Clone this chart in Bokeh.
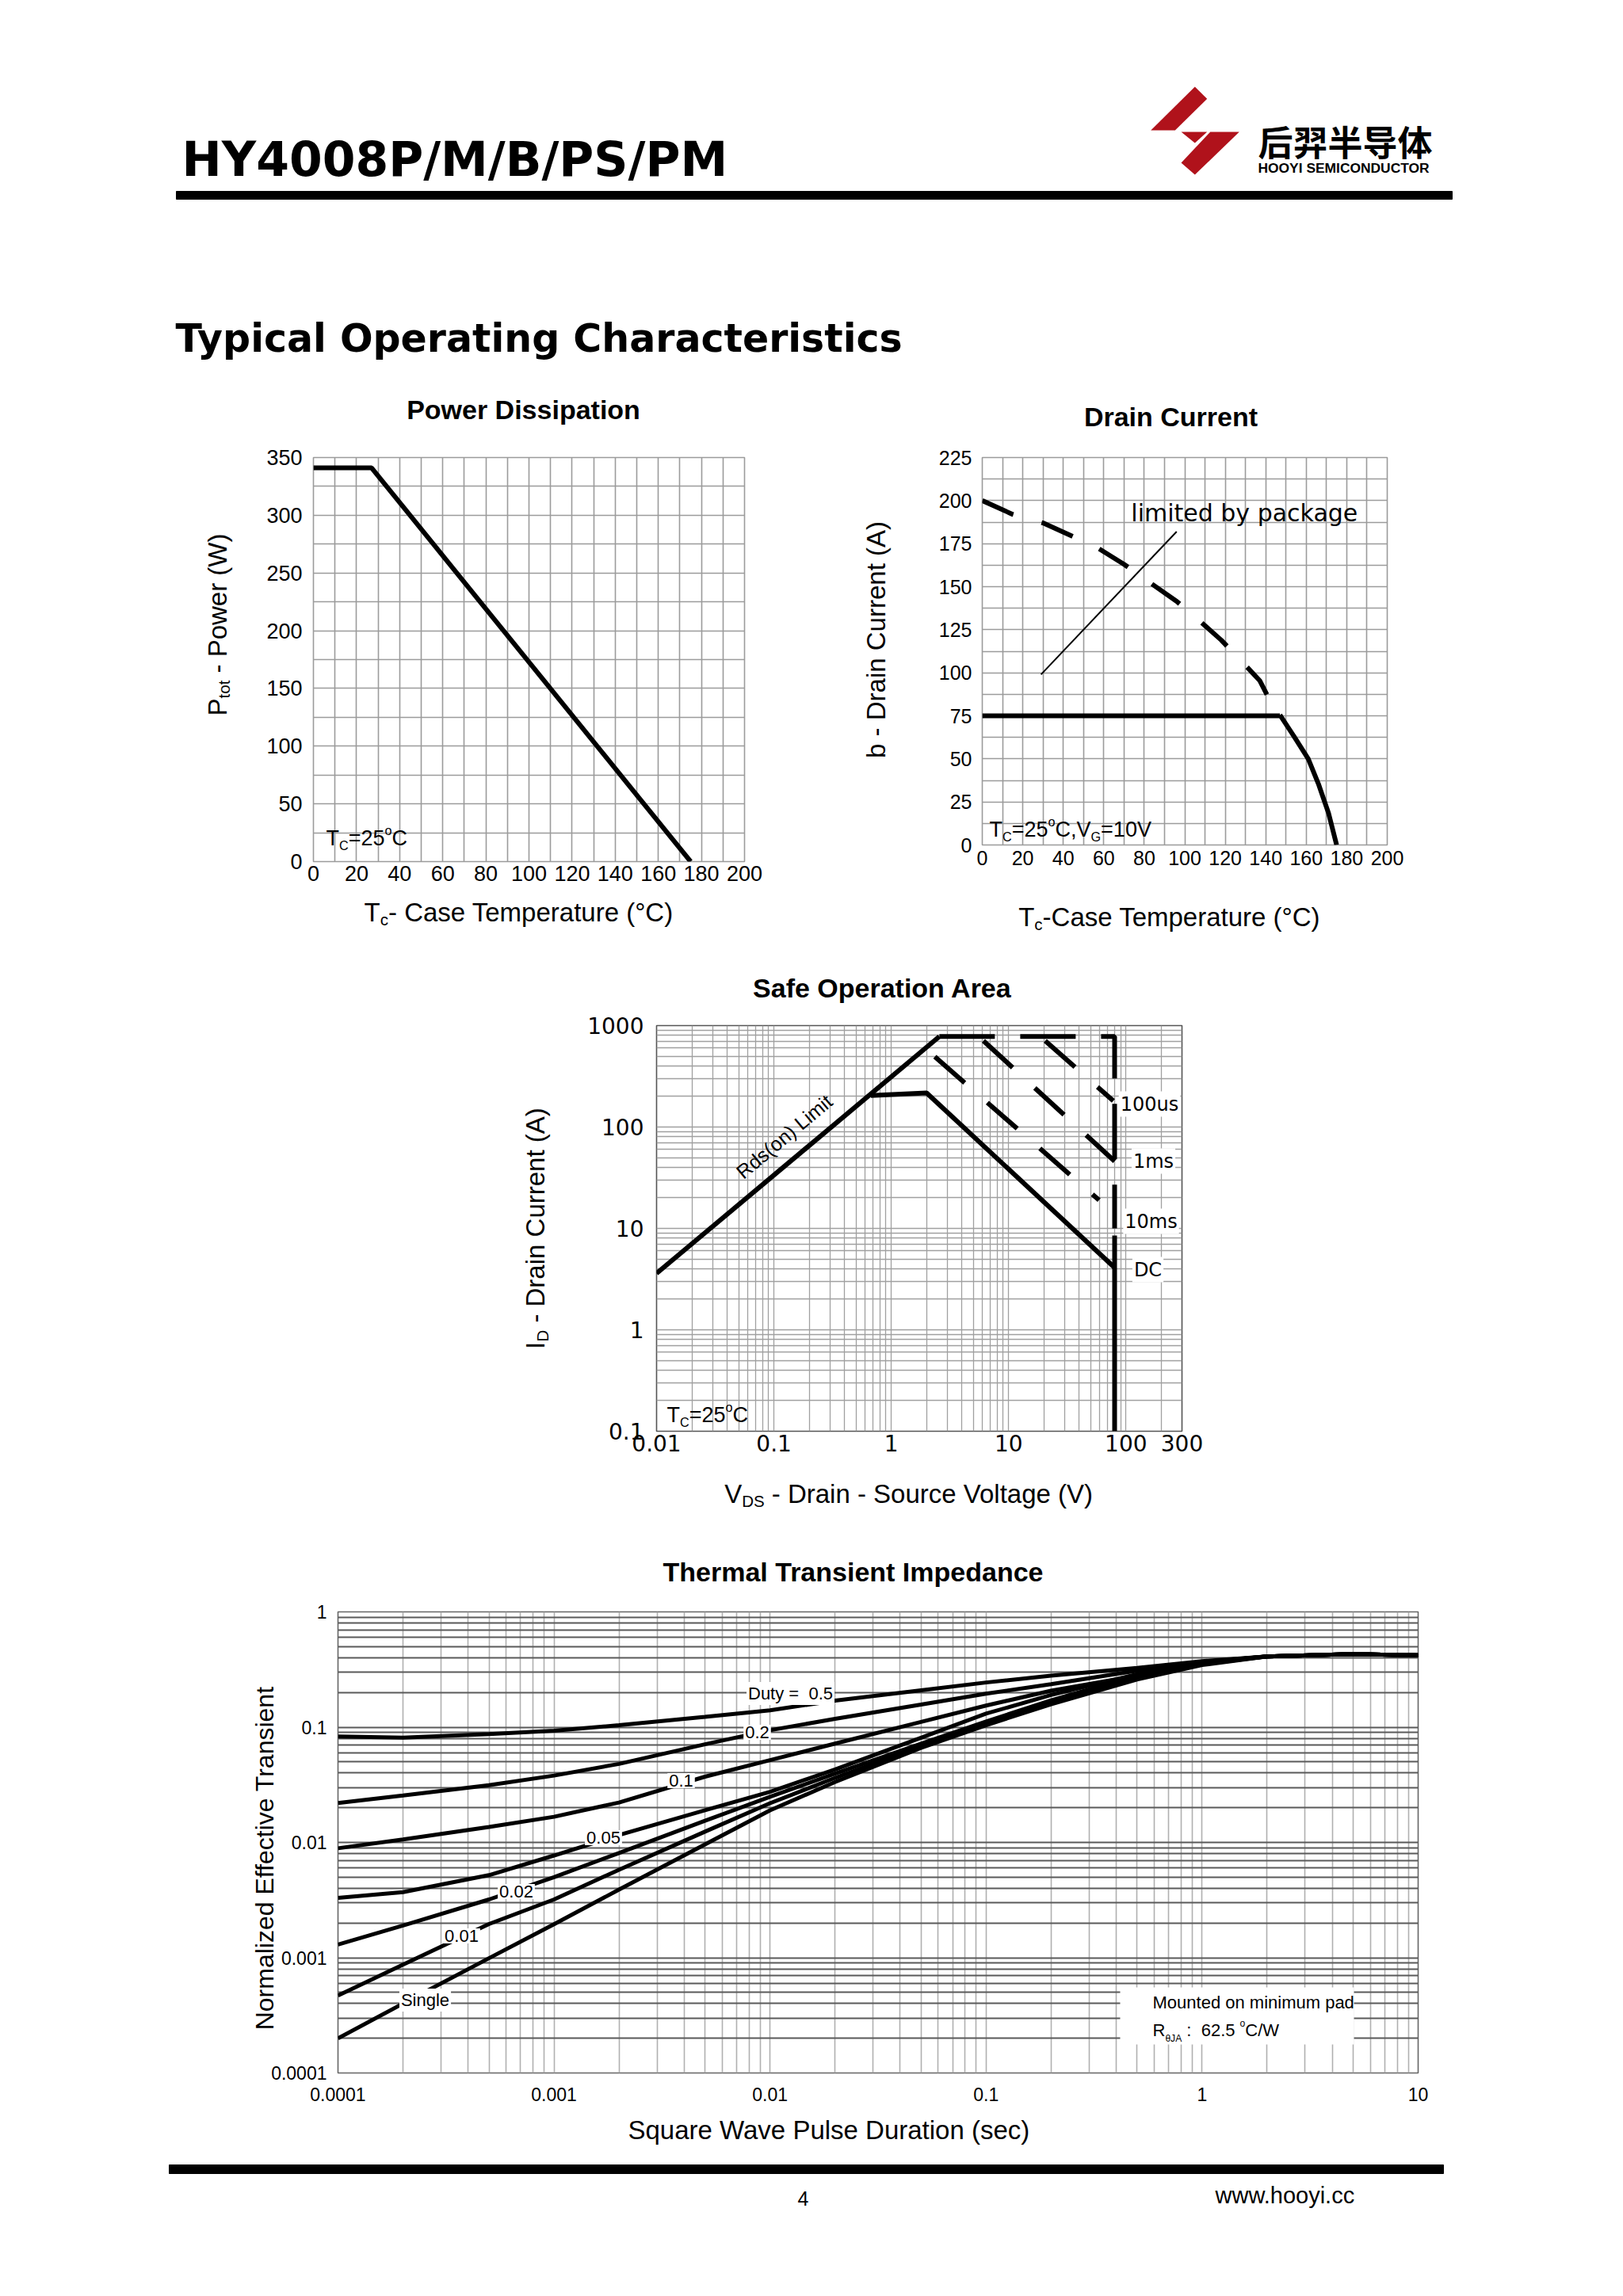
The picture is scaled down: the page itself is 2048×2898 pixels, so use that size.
import math
import re
from math import log10, pi
from bokeh.plotting import figure
from bokeh.models import (Range1d, FixedTicker, Label, BoxAnnotation, CustomJSTickFormatter,
                          GridBox, Spacer)
from bokeh.layouts import column, row
from bokeh.embed import file_html
from bokeh.resources import INLINE

# ---------------- data ----------------
# Power dissipation
pd_temp = [0, 27, 175]
pd_power = [341, 341, 0]
pd_xticks = [0, 20, 40, 60, 80, 100, 120, 140, 160, 180, 200]
pd_yticks = [0, 50, 100, 150, 200, 250, 300, 350]

# Drain current
dc_lim_temp = [0, 15, 30, 45, 57, 70, 82, 96, 106, 118, 127, 137, 142, 147]
dc_lim_curr = [200, 192, 187, 179, 172.5, 163, 153, 141.5, 131.5, 119, 108, 95.5, 84, 75.5]
pkg_temp = [0, 147]
pkg_curr = [75, 75]
derate_temp = [147, 154, 161, 166, 171, 175]
derate_curr = [75.5, 63, 50, 35.5, 18.5, 0]
pointer_temp = [29, 96]
pointer_curr = [99, 182]
dc_xticks = [0, 20, 40, 60, 80, 100, 120, 140, 160, 180, 200]
dc_yticks = [0, 25, 50, 75, 100, 125, 150, 175, 200, 225]

# Safe operation area
rds_vds = [0.01, 2.57]
rds_id = [3.6, 780]
env_vds = [2.57, 80, 80]
env_id = [780, 780, 10]
soa_dc_vds = [0.67, 2.0, 80]
soa_dc_id = [204, 217, 4.1]
bv_vds = [80, 80]
bv_id = [8.5, 0.1]
us100_vds = [20.5, 78]
us100_id = [708, 181]
ms1_vds = [6.1, 80]
ms1_id = [708, 46]
ms10_vds = [2.35, 59]
ms10_id = [493, 19]
soa_xticks = [0.01, 0.1, 1, 10, 100, 300]
soa_yticks = [0.1, 1, 10, 100, 1000]

# Thermal transient impedance
pulse_s = [1e-4, 2e-4, 5e-4, 1e-3, 2e-3, 5e-3, 1e-2, 2e-2, 5e-2, 0.1, 0.2, 0.5, 1, 2, 5, 10]
zth_d05 = [0.083, 0.081, 0.087, 0.093, 0.104, 0.123, 0.14, 0.17, 0.209, 0.244, 0.28, 0.326, 0.374, 0.41, 0.43, 0.42]
zth_d02 = [0.022, 0.0255, 0.0314, 0.038, 0.048, 0.071, 0.094, 0.118, 0.157, 0.195, 0.236, 0.309, 0.369, 0.41, 0.43, 0.42]
zth_d01 = [0.0089, 0.0106, 0.0136, 0.0167, 0.0222, 0.0372, 0.0517, 0.072, 0.111, 0.154, 0.207, 0.28, 0.363, 0.41, 0.43, 0.42]
zth_d005 = [0.0033, 0.0037, 0.0052, 0.0077, 0.0116, 0.019, 0.0275, 0.043, 0.081, 0.131, 0.19, 0.288, 0.366, 0.41, 0.43, 0.42]
zth_d002 = [0.0013, 0.0019, 0.0032, 0.005, 0.0081, 0.0154, 0.0249, 0.0395, 0.072, 0.112, 0.171, 0.28, 0.36, 0.41, 0.43, 0.42]
zth_d001 = [0.00047, 0.00087, 0.00196, 0.0032, 0.0058, 0.0124, 0.0219, 0.0363, 0.0687, 0.108, 0.165, 0.265, 0.352, 0.41, 0.43, 0.42]
zth_single = [0.0002, 0.0004, 0.00099, 0.00195, 0.0039, 0.0096, 0.019, 0.0334, 0.066, 0.104, 0.158, 0.259, 0.346, 0.41, 0.43, 0.42]
zth_xticks = [0.0001, 0.001, 0.01, 0.1, 1, 10]
zth_yticks = [0.0001, 0.001, 0.01, 0.1, 1]

# ---------------- helpers ----------------
AW = {' ': .278, '(': .333, ')': .333, ',': .278, '-': .333, '.': .278, '/': .278, ':': .278,
      '=': .584, '°': .4, 'θ': .556}
for d in '0123456789':
    AW[d] = .556
AW.update(dict(A=.667, B=.667, C=.722, D=.722, E=.667, F=.611, G=.778, H=.722, I=.278, J=.5, K=.667,
               L=.556, M=.833, N=.722, O=.778, P=.667, Q=.778, R=.722, S=.667, T=.611, U=.722, V=.667,
               W=.944, X=.667, Y=.667, Z=.611))
AW.update(dict(a=.556, b=.556, c=.5, d=.556, e=.556, f=.278, g=.556, h=.556, i=.222, j=.222, k=.5,
               l=.222, m=.833, n=.556, o=.556, p=.556, q=.556, r=.333, s=.5, t=.278, u=.556, v=.5,
               w=.722, x=.5, y=.5, z=.5))


def tw(s):
    return sum(AW.get(ch, .556) for ch in s)


def keep_spaces(t):
    # SVG collapses runs of spaces: keep them with no-break spaces
    return re.sub(r' {2,}', lambda m: '\u00a0' * len(m.group()), t)


def add_label(p, x, y, text, size, font="Liberation Sans", style="normal", align="left",
              baseline="middle", angle=0.0, bg=None):
    kw = dict(x=x, y=y, text=keep_spaces(text), text_font=font, text_font_size=f"{size:.1f}px",
              text_font_style=style, text_align=align, text_baseline=baseline, angle=angle,
              text_color="black")
    if bg:
        kw.update(background_fill_color=bg, background_fill_alpha=1.0, padding=2)
    p.add_layout(Label(**kw))


def ident(px, py):
    return px, py


MID = 0.35   # distance of the em-box middle above the baseline (in em)


def rich(p, conv, px, py, segs, size, vertical=False, anchor="center", font="Liberation Sans"):
    """Text made of segments (text, scale, baseline shift in em, + = down); (px, py) is the
    visual centre (anchor='center') or the left end of the centre line (anchor='left')."""
    widths = [tw(t) * size * sc for t, sc, sh in segs]
    total = sum(widths)
    pos = (py + total / 2) if vertical else (px - total / 2 if anchor == "center" else px)
    for (t, sc, sh), w in zip(segs, widths):
        lead = len(t) - len(t.lstrip(' '))
        adv = tw(' ' * lead) * size * sc
        txt = t.strip(' ')
        off = (sh + MID * (1 - sc)) * size
        if vertical:
            x0, y0 = conv(px + off, pos - adv)
            add_label(p, x0, y0, txt, size * sc, font, angle=pi / 2)
            pos -= w
        else:
            x0, y0 = conv(pos + adv, py + off)
            add_label(p, x0, y0, txt, size * sc, font)
            pos += w


def log_minor(lo, hi):
    out = []
    e = math.floor(log10(lo))
    while 10 ** e < hi:
        for k in range(2, 10):
            v = k * 10 ** e
            if lo * 1.0001 < v < hi * 0.9999:
                out.append(v)
        e += 1
    return out


def no_align(p):
    try:
        p.frame_align = False
    except Exception:
        pass


BL, BR, BT, BB = 120, 60, 30, 60   # borders of chart figures (room for tick labels)


def chart(L, T, R, B, xr, yr, xlog=False, ylog=False):
    p = figure(width=BL + (R - L) + BR, height=BT + (B - T) + BB,
               x_range=Range1d(*xr), y_range=Range1d(*yr),
               x_axis_type="log" if xlog else "linear", y_axis_type="log" if ylog else "linear",
               min_border_left=BL, min_border_right=BR, min_border_top=BT, min_border_bottom=BB,
               output_backend="svg", toolbar_location=None, title=None)
    p.border_fill_color = None
    p.border_fill_alpha = 0
    no_align(p)

    def conv(px, py):
        ax = (px - L) / (R - L)
        ay = (B - py) / (B - T)
        if xlog:
            x = 10 ** (log10(xr[0]) + ax * (log10(xr[1]) - log10(xr[0])))
        else:
            x = xr[0] + ax * (xr[1] - xr[0])
        if ylog:
            y = 10 ** (log10(yr[0]) + ay * (log10(yr[1]) - log10(yr[0])))
        else:
            y = yr[0] + ay * (yr[1] - yr[0])
        return x, y
    return p, conv, (L - BL, T - BT)


def style(p, xt, xm, yt, ym, font, size, xstand, ystand, xgc, ygc, xgw, ygw, outline, fmt=False):
    xtk = FixedTicker(ticks=xt, minor_ticks=xm)
    ytk = FixedTicker(ticks=yt, minor_ticks=ym)
    p.xaxis[0].ticker = xtk
    p.yaxis[0].ticker = ytk
    p.xgrid[0].ticker = xtk
    p.ygrid[0].ticker = ytk
    for ax in p.axis:
        ax.axis_line_color = None
        ax.major_tick_line_color = None
        ax.minor_tick_line_color = None
        ax.major_tick_out = 0
        ax.major_tick_in = 0
        ax.minor_tick_out = 0
        ax.minor_tick_in = 0
        ax.major_label_text_font = font
        ax.major_label_text_font_size = f"{size}px"
        ax.major_label_text_color = "black"
        if fmt:
            ax.formatter = CustomJSTickFormatter(code="return String(tick);")
    p.xaxis[0].major_label_standoff = xstand
    p.yaxis[0].major_label_standoff = ystand
    p.xgrid[0].grid_line_color = xgc
    p.xgrid[0].minor_grid_line_color = xgc
    p.xgrid[0].grid_line_width = xgw
    p.xgrid[0].minor_grid_line_width = xgw
    p.ygrid[0].grid_line_color = ygc
    p.ygrid[0].minor_grid_line_color = ygc
    p.ygrid[0].grid_line_width = ygw
    p.ygrid[0].minor_grid_line_width = ygw
    p.outline_line_color = outline
    p.outline_line_width = 1.6


def place(fig, pos):
    fx, fy = pos
    return column(Spacer(width=1, height=fy), row(Spacer(width=fx, height=1), fig))


BLACK = "black"

# ---------------- page canvas (all free text, header, footer) ----------------
page = figure(width=2040, height=2890, x_range=Range1d(0, 2040), y_range=Range1d(2890, 0),
              min_border=0, x_axis_location=None, y_axis_location=None,
              output_backend="svg", toolbar_location=None, title=None)
page.outline_line_color = None
for g in page.grid:
    g.visible = False
no_align(page)

add_label(page, 229, 200, "HY4008P/M/B/PS/PM", 60, "DejaVu Sans", "bold")
page.quad(left=[222], right=[1832], top=[241], bottom=[251], color=BLACK)
page.patches(xs=[[1451.7, 1507.3, 1522.7, 1482.3], [1490, 1522.7, 1507.3], [1490, 1526.7, 1563.3, 1507.3]],
             ys=[[164, 109, 124.3, 164], [166, 166, 180], [205, 166, 166, 220]],
             fill_color="#b0121b", line_color=None)
add_label(page, 1587, 177, "后羿半导体", 44, "Noto Sans CJK SC", "bold")
add_label(page, 1587, 211, "HOOYI SEMICONDUCTOR", 17.4, "Liberation Sans", "bold")
add_label(page, 221, 427, "Typical Operating Characteristics", 49, "DejaVu Sans", "bold")

# chart titles
add_label(page, 660, 516, "Power Dissipation", 34, "Liberation Sans", "bold", align="center")
add_label(page, 1477, 525, "Drain Current", 34, "Liberation Sans", "bold", align="center")
add_label(page, 1113, 1246, "Safe Operation Area", 34, "Liberation Sans", "bold", align="center")
add_label(page, 1076, 1983, "Thermal Transient Impedance", 34, "Liberation Sans", "bold", align="center")

# axis labels
rich(page, ident, 274, 788, [("P", 1, 0), ("tot", .62, .12), (" - Power (W)", 1, 0)], 33, vertical=True)
rich(page, ident, 656, 1151, [("T", 1, 0), ("c", .62, .14), ("- Case Temperature (°C)", 1, 0)], 33)
rich(page, ident, 1105, 807, [("b - Drain Current (A)", 1, 0)], 33, vertical=True)
rich(page, ident, 1477, 1157, [("T", 1, 0), ("c", .62, .14), ("-Case Temperature (°C)", 1, 0)], 33)
rich(page, ident, 675, 1550, [("I", 1, 0), ("D", .62, .14), (" - Drain Current (A)", 1, 0)], 33, vertical=True)
rich(page, ident, 1147, 1885, [("V", 1, 0), ("DS", .62, .14), (" - Drain - Source Voltage (V)", 1, 0)], 33)
rich(page, ident, 333, 2344, [("Normalized Effective Transient", 1, 0)], 32, vertical=True)
rich(page, ident, 1046, 2688, [("Square Wave Pulse Duration (sec)", 1, 0)], 33)

# footer
page.quad(left=[213], right=[1821], top=[2732], bottom=[2743], color=BLACK)
add_label(page, 1013, 2774, "4", 25, "Liberation Sans", align="center")
add_label(page, 1533, 2770, "www.hooyi.cc", 29, "Liberation Sans")

# ---------------- chart 1: power dissipation ----------------
p1, c1, pos1 = chart(395, 577, 939, 1087, (0, 200), (0, 350))
style(p1, pd_xticks, [v + 10 for v in pd_xticks[:-1]], pd_yticks, [v + 25 for v in pd_yticks[:-1]],
      "Liberation Sans", 27, 5, 14, "#9b9b9b", "#9b9b9b", 1.6, 1.6, "#9b9b9b")
p1.line(pd_temp, pd_power, line_width=6, color=BLACK)
rich(p1, c1, 411, 1057, [("T", 1, 0), ("C", .6, .22), ("=25", 1, 0), ("o", .6, -.5), ("C", 1, 0)], 27,
     anchor="left")

# ---------------- chart 2: drain current ----------------
p2, c2, pos2 = chart(1239, 577, 1750, 1066, (0, 200), (0, 225))
style(p2, dc_xticks, [v + 10 for v in dc_xticks[:-1]], dc_yticks, [v + 12.5 for v in dc_yticks[:-1]],
      "Liberation Sans", 25, 7, 13, "#9b9b9b", "#9b9b9b", 1.6, 1.6, "#9b9b9b")
p2.line(dc_lim_temp, dc_lim_curr, line_width=6, color=BLACK, line_dash="43 37")
p2.line(pkg_temp, pkg_curr, line_width=6, color=BLACK)
p2.line(derate_temp, derate_curr, line_width=6, color=BLACK)
p2.line(pointer_temp, pointer_curr, line_width=2, color=BLACK)
add_label(p2, 73.5, 193, "limited by package", 30, "DejaVu Sans")
rich(p2, c2, 1248, 1046, [("T", 1, 0), ("C", .6, .22), ("=25", 1, 0), ("o", .6, -.5), ("C,V", 1, 0),
                          ("G", .6, .22), ("=10V", 1, 0)], 27, anchor="left")

# ---------------- chart 3: safe operation area ----------------
p3, c3, pos3 = chart(828, 1294, 1491, 1806, (0.01, 300), (0.1, 1000), True, True)
style(p3, soa_xticks, log_minor(0.01, 300), soa_yticks, log_minor(0.1, 1000),
      "DejaVu Sans", 28, 4, 16, "#a0a0a0", "#a0a0a0", 1.3, 1.3, "#555555", fmt=True)
p3.line(rds_vds, rds_id, line_width=6, color=BLACK)
p3.line(env_vds, env_id, line_width=6, color=BLACK, line_dash="70 32")
p3.line(soa_dc_vds, soa_dc_id, line_width=6, color=BLACK)
p3.line(bv_vds, bv_id, line_width=6, color=BLACK)
p3.line(us100_vds, us100_id, line_width=6, color=BLACK, line_dash="50 38")
p3.line(ms1_vds, ms1_id, line_width=6, color=BLACK, line_dash="50 38")
p3.line(ms10_vds, ms10_id, line_width=6, color=BLACK, line_dash="50 38")
x, y = c3(989, 1434)
add_label(p3, x, y, "Rds(on) Limit", 25, "Liberation Sans", align="center", angle=40 * pi / 180)
for txt, px, py in [("100us", 1450, 1393), ("1ms", 1455, 1465), ("10ms", 1452, 1541), ("DC", 1448, 1602)]:
    x, y = c3(px, py)
    add_label(p3, x, y, txt, 24, "DejaVu Sans", align="center", bg="white")
rich(p3, c3, 841, 1785, [("T", 1, 0), ("C", .6, .22), ("=25", 1, 0), ("o", .6, -.5), ("C", 1, 0)], 27,
     anchor="left")

# ---------------- chart 4: thermal transient impedance ----------------
p4, c4, pos4 = chart(426, 2034, 1789, 2616, (1e-4, 10), (1e-4, 1), True, True)
style(p4, zth_xticks, log_minor(1e-4, 10), zth_yticks, log_minor(1e-4, 1),
      "Liberation Sans", 23, 18, 14, "#b0b0b0", "#5a5a5a", 1.6, 1.8, "#666666", fmt=True)
for ys in [zth_d05, zth_d02, zth_d01, zth_d005, zth_d002, zth_d001, zth_single]:
    p4.line(pulse_s, ys, line_width=5, color=BLACK)
bl, bt = c4(1413, 2508)
br, bb = c4(1708, 2580)
p4.add_layout(BoxAnnotation(left=bl, right=br, top=bt, bottom=bb, fill_color="white", fill_alpha=1.0,
                            line_color=None))
for txt, px, py in [("Duty =  0.5", 997, 2137), ("0.2", 955, 2186), ("0.1", 859, 2247), ("0.05", 761, 2319),
                    ("0.02", 651, 2387), ("0.01", 582, 2443), ("Single", 536, 2524)]:
    x, y = c4(px, py)
    add_label(p4, x, y, txt, 22, "Liberation Sans", align="center", bg="white")
rich(p4, c4, 1454, 2527, [("Mounted on minimum pad", 1, 0)], 22, anchor="left")
rich(p4, c4, 1454, 2562, [("R", 1, 0), ("θJA", .55, .3), (" :  62.5 ", 1, 0), ("o", .55, -.55), ("C/W", 1, 0)],
     22, anchor="left")

grid = GridBox(children=[(page, 0, 0), (place(p1, pos1), 0, 0), (place(p2, pos2), 0, 0),
                         (place(p3, pos3), 0, 0), (place(p4, pos4), 0, 0)])
open("out.html", "w").write(file_html(grid, INLINE))
